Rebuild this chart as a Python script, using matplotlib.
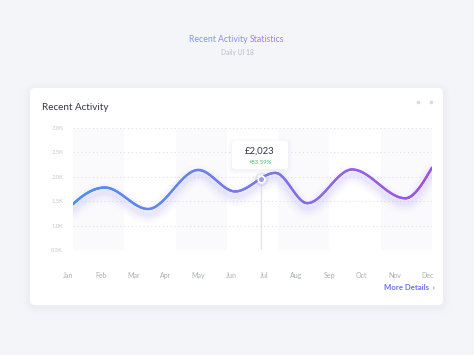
import numpy as np
import matplotlib.pyplot as plt
import matplotlib.transforms as mtransforms
from matplotlib.path import Path
from matplotlib.patches import FancyBboxPatch
from matplotlib.collections import LineCollection
from matplotlib.colors import LinearSegmentedColormap

plt.rcParams['font.family'] = ['Lato', 'DejaVu Sans']

# data (values in thousands)
months = ['Jan', 'Feb', 'Mar', 'Apr', 'May', 'Jun',
          'Jul', 'Aug', 'Sep', 'Oct', 'Nov', 'Dec']
wave_x = [0, 0.98, 2.3, 3.84, 4.97, 6.2, 7.18, 8.55, 10.18, 11]
wave_k = [1.44, 1.78, 1.34, 2.14, 1.70, 2.08, 1.46, 2.15, 1.56, 2.19]
y_ticks = [0.5, 1.0, 1.5, 2.0, 2.5, 3.0]
y_labels = ['0.5K', '1.0K', '1.5K', '2.0K', '2.5K', '3.0K']
tip_x = 5.76
tip_k = 1.955
tip_amount = '£2,023'
tip_change = '+83.59%'
title_words = ['Recent ', 'Activity ', 'Statistics']
title_colors = ['#7f97f6', '#8d8ef3', '#a37ef0']


def smooth_path(x, y):
    # monotone cubic (Fritsch-Carlson) written as bezier segments
    x = np.asarray(x, float)
    y = np.asarray(y, float)
    h = np.diff(x)
    d = np.diff(y) / h
    m = np.zeros_like(y)
    for i in range(1, len(y) - 1):
        if d[i - 1] * d[i] > 0:
            w1 = 2 * h[i] + h[i - 1]
            w2 = h[i] + 2 * h[i - 1]
            m[i] = (w1 + w2) / (w1 / d[i - 1] + w2 / d[i])

    def end_slope(h0, h1, d0, d1):
        s = ((2 * h0 + h1) * d0 - h0 * d1) / (h0 + h1)
        if np.sign(s) != np.sign(d0):
            return 0.0
        if abs(s) > 3 * abs(d0):
            return 3 * d0
        return s

    m[0] = end_slope(h[0], h[1], d[0], d[1])
    m[-1] = end_slope(h[-1], h[-2], d[-1], d[-2])
    verts = [(x[0], y[0])]
    codes = [Path.MOVETO]
    for i in range(len(h)):
        verts += [(x[i] + h[i] / 3, y[i] + m[i] * h[i] / 3),
                  (x[i + 1] - h[i] / 3, y[i + 1] - m[i + 1] * h[i] / 3),
                  (x[i + 1], y[i + 1])]
        codes += [Path.CURVE4] * 3
    return Path(verts, codes)


fig = plt.figure(figsize=(4.74, 3.55), dpi=100)
fig.patch.set_facecolor('#f4f5f9')

# page layer in pixel coordinates
bg = fig.add_axes([0, 0, 1, 1])
bg.set_xlim(0, 474)
bg.set_ylim(355, 0)
bg.axis('off')
bg.set_zorder(0)

for k, a in enumerate([0.012, 0.012, 0.01, 0.008]):
    pad = 2 + 2 * k
    bg.add_patch(FancyBboxPatch((30 - pad, 90 - pad), 413 + 2 * pad, 217 + 2 * pad,
                                boxstyle='round,pad=0,rounding_size=%d' % (6 + pad),
                                facecolor='#8088b0', edgecolor='none', alpha=a))
bg.add_patch(FancyBboxPatch((30, 88), 413, 217, boxstyle='round,pad=0,rounding_size=5',
                            facecolor='white', edgecolor='none'))

# page title in three tints (blue -> purple), centred as a whole
renderer = fig.canvas.get_renderer()
pieces = [bg.text(0, 40, w, ha='left', va='center', fontsize=6.3, color=c)
          for w, c in zip(title_words, title_colors)]
widths = [p.get_window_extent(renderer).width for p in pieces]
x0 = 237 - sum(widths) / 2
for p, w in zip(pieces, widths):
    p.set_x(x0)
    x0 += w

bg.text(237, 53, 'Daily UI 18', ha='center', va='center', fontsize=4.8, color='#b9bcc6')
bg.text(42, 108, 'Recent Activity', ha='left', va='center', fontsize=7.1, color='#33364a')
bg.plot([418, 431], [101.5, 101.5], ls='none', marker='s', ms=1.5, color='#d8dae0')
bg.text(435, 287, 'More Details  \u203a', ha='right', va='center', fontsize=5.6,
        color='#6b70ee', fontweight='bold')

# chart
ax = fig.add_axes([73 / 474, 1 - 250 / 355, 359 / 474, 122 / 355])
ax.set_facecolor('none')
ax.set_zorder(1)
ax.set_xlim(0, 11)
ax.set_ylim(0.5, 3.0)
for s in ax.spines.values():
    s.set_visible(False)

n_bands = 7
for i in range(0, n_bands, 2):
    ax.axvspan(i * 11 / n_bands, (i + 1) * 11 / n_bands, color='#fafafd', lw=0, zorder=0)

for v in y_ticks:
    ax.axhline(v, color='#dfe0e8', lw=0.8, ls=(0, (1, 2.5)), zorder=1)

ax.set_yticks(y_ticks)
ax.set_yticklabels(y_labels)
ax.set_xticks(range(len(months)))
ax.set_xticklabels(months)
ax.tick_params(length=0)
ax.tick_params(axis='y', labelsize=4.2, labelcolor='#c3c6ce', pad=7)
ax.tick_params(axis='x', labelsize=5.0, labelcolor='#a9adb8', pad=16)
shift = mtransforms.ScaledTranslation(-5 / 100, 0, fig.dpi_scale_trans)
for lab in ax.get_xticklabels():
    lab.set_transform(lab.get_transform() + shift)

# the wave
path = smooth_path(wave_x, wave_k)
t = np.linspace(0, 1, 40)
pts = np.vstack([seg(t) for seg, code in path.iter_bezier()])
segs = np.stack([pts[:-1], pts[1:]], axis=1)
mid = (pts[:-1, 0] + pts[1:, 0]) / 2

cmap = LinearSegmentedColormap.from_list('wave', ['#4a90f2', '#7a78e8', '#a24fe4'])

# soft glow under the line: single polylines so alpha does not pile up
glow_tr = mtransforms.offset_copy(ax.transData, fig=fig, x=0, y=-5, units='dots')
for lw, a in [(14, 0.035), (10, 0.045), (6.5, 0.06), (3.5, 0.07)]:
    ax.plot(pts[:, 0], pts[:, 1], color='#9a8cf0', lw=lw, alpha=a,
            transform=glow_tr, solid_capstyle='round', zorder=2)

lc = LineCollection(segs, cmap=cmap, norm=plt.Normalize(0, 11), lw=1.7,
                    capstyle='round', zorder=4)
lc.set_array(mid)
ax.add_collection(lc)

# tooltip
ax.plot([tip_x, tip_x], [0.5, tip_k], color='#e1e2e8', lw=0.9, zorder=3)
ax.plot(tip_x, tip_k, marker='o', ms=9, color='#8d90ea', alpha=0.12, zorder=5)
ax.plot(tip_x, tip_k, marker='o', ms=4.8, mfc='#9a9cea', mec='white', mew=1.2, zorder=6)

# tooltip box above the chart axes
tip_ax = fig.add_axes([0, 0, 1, 1])
tip_ax.set_xlim(0, 474)
tip_ax.set_ylim(355, 0)
tip_ax.axis('off')
tip_ax.set_zorder(2)
for k, a in enumerate([0.025, 0.02, 0.015]):
    pad = 1 + 1.5 * k
    tip_ax.add_patch(FancyBboxPatch((232 - pad, 141 - pad + 1.5), 56 + 2 * pad, 28 + 2 * pad,
                                    boxstyle='round,pad=0,rounding_size=%g' % (3 + pad),
                                    facecolor='#7078a0', edgecolor='none', alpha=a))
tip_ax.add_patch(FancyBboxPatch((232, 141), 56, 28, boxstyle='round,pad=0,rounding_size=3',
                                facecolor='white', edgecolor='none'))
tip_ax.text(260, 151.5, tip_amount, ha='center', va='center', fontsize=6.8, color='#33364a')
tip_ax.text(260, 162, tip_change, ha='center', va='center', fontsize=4.3, color='#3dbf6a')

fig.savefig('out.png', dpi=100, facecolor=fig.get_facecolor())
